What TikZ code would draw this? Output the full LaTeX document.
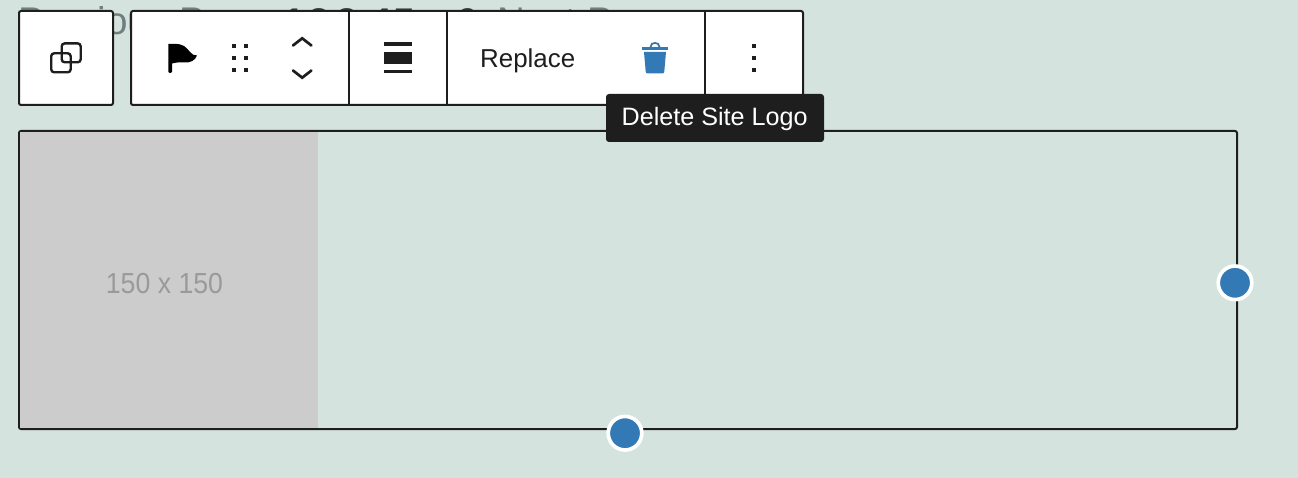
\documentclass[tikz,border=0pt]{standalone}
\usepackage{fontspec}
\usepackage{graphicx}
\setmainfont{Liberation Sans}
\definecolor{bgc}{HTML}{D4E3DE}
\definecolor{ink}{HTML}{1E1E1E}
\definecolor{wpblue}{HTML}{3379B5}
\definecolor{pager}{HTML}{6F7F7F}
\definecolor{pagercur}{HTML}{333B3B}
\definecolor{phgray}{HTML}{CCCCCC}
\definecolor{phtext}{HTML}{9A9A9A}
\tikzset{
  x=1pt,y=-1pt,
  barbox/.style={draw=ink,line width=2pt,fill=white,rounded corners=2pt,outer sep=0pt,inner sep=0pt,anchor=north west},
  sep/.style={draw=ink,line width=2pt},
  handle/.style={circle,fill=wpblue,draw=white,line width=3.7pt,minimum size=33.6pt,inner sep=0pt,outer sep=0pt},
  icon/.style={draw=ink,line width=2.4pt},
  dotmark/.style={fill=ink},
  pagetext/.style={anchor=base west,inner sep=0pt,text=pager,font=\fontsize{38.6}{46}\selectfont},
  pagenum/.style={anchor=base west,inner sep=0pt,text=pagercur,font=\bfseries\fontsize{38.6}{46}\selectfont},
}
\begin{document}
\begin{tikzpicture}
\useasboundingbox (0,0) rectangle (1298,478);
\fill[bgc] (0,0) rectangle (1298,478);
% pagination behind toolbar
\node[pagetext] (pgprev) at (18,34.5) {Previous Page};
\node[pagenum] (n1) at (283,35.5) {1};
\node[pagenum] (n2) at (308,35.5) {2};
\node[pagenum] (n3) at (336,35.5) {3};
\node[pagenum] (n4) at (370,35.5) {4};
\node[pagenum] (n5) at (393,35.5) {5};
\node[pagenum] (n6) at (456,35.5) {6};
\node[pagetext] (pgnext) at (497,34.5) {Next P};
% block frame
\node[draw=ink,line width=2pt,fill=bgc,rounded corners=2pt,minimum width=1218pt,minimum height=298pt,inner sep=0pt,outer sep=0pt,anchor=north west] (frame) at (19,131) {};
\fill[phgray] (20,132) rectangle (318,428);
\node[text=phtext,font=\fontsize{29}{32}\selectfont,inner sep=0pt] (ph) at (164.5,284) {\scalebox{0.92}[1]{150 x 150}};
% toolbars
\node[barbox,minimum width=94pt,minimum height=94pt] (tb1) at (19,11) {};
\node[barbox,minimum width=672pt,minimum height=94pt] (tb2) at (131,11) {};
\coordinate (s1t) at (349,11); \coordinate (s1b) at (349,105);
\coordinate (s2t) at (447,11); \coordinate (s2b) at (447,105);
\coordinate (s3t) at (705,11); \coordinate (s3b) at (705,105);
\draw[sep] (s1t) -- (s1b);
\draw[sep] (s2t) -- (s2b);
\draw[sep] (s3t) -- (s3b);
% duplicate icon
\draw[icon,rounded corners=3pt] (61.7,43.4) rectangle (80.7,62.3);
\draw[icon,rounded corners=3pt] (51.2,53.3) rectangle (70.7,72.3);
% flag
\fill[black] (168.3,44) -- (174,44) .. controls (183,43.5) and (186,47) .. (190,52) .. controls (192,54.5) and (194,55.5) .. (197,55.5) .. controls (195.5,60.5) and (190,63) .. (184,62.5) .. controls (180,62) and (176,62.5) .. (172,63.5) -- (172,72) .. controls (172,73.5) and (168.3,73.5) .. (168.3,72) -- cycle;
% drag dots
\foreach \dx in {232.2,244.2}{\foreach \dy in {44,56,68}{\fill[dotmark] (\dx,\dy) rectangle +(4,4);}}
% movers
\draw[icon,line width=2.7pt,line cap=round] (293,45.5) -- (302.2,38.3) -- (311.4,45.5);
\draw[icon,line width=2.7pt,line cap=round] (293,70.5) -- (302.2,77.7) -- (311.4,70.5);
% align icon
\fill[ink] (384,42.3) rectangle (412,45.7);
\fill[ink] (384,52.3) rectangle (412,64);
\fill[ink] (384,70) rectangle (412,73.3);
% replace
\node[anchor=base west,inner sep=0pt,text=ink,font=\fontsize{25.9}{30}\selectfont] (rep) at (480,68) {Replace};
% trash
\fill[wpblue] (642,46.7) rectangle (668,50);
\draw[wpblue,line width=1.8pt] (650.5,47) .. controls (650.5,41.5) and (659.5,41.5) .. (659.5,47);
\fill[wpblue] (644,52) -- (666,52) -- (664.3,71.5) .. controls (664.2,73) and (663.5,73.5) .. (662,73.5) -- (648,73.5) .. controls (646.5,73.5) and (645.8,73) .. (645.7,71.5) -- cycle;
% kebab
\foreach \dy in {44,56,68}{\fill[dotmark] (752.2,\dy) rectangle +(4,4);}
% tooltip
\node[fill=ink,rounded corners=3pt,minimum width=218pt,minimum height=48pt,inner sep=0pt,outer sep=0pt,anchor=north west] (tip) at (606,94) {};
\node[anchor=base west,inner sep=0pt,text=white,font=\fontsize{25.15}{30}\selectfont] (tiptext) at (621.5,126) {Delete Site Logo};
% handles
\node[handle] (hr) at (1235,282.8) {};
\node[handle] (hb) at (625,433.2) {};
\end{tikzpicture}
\end{document}
